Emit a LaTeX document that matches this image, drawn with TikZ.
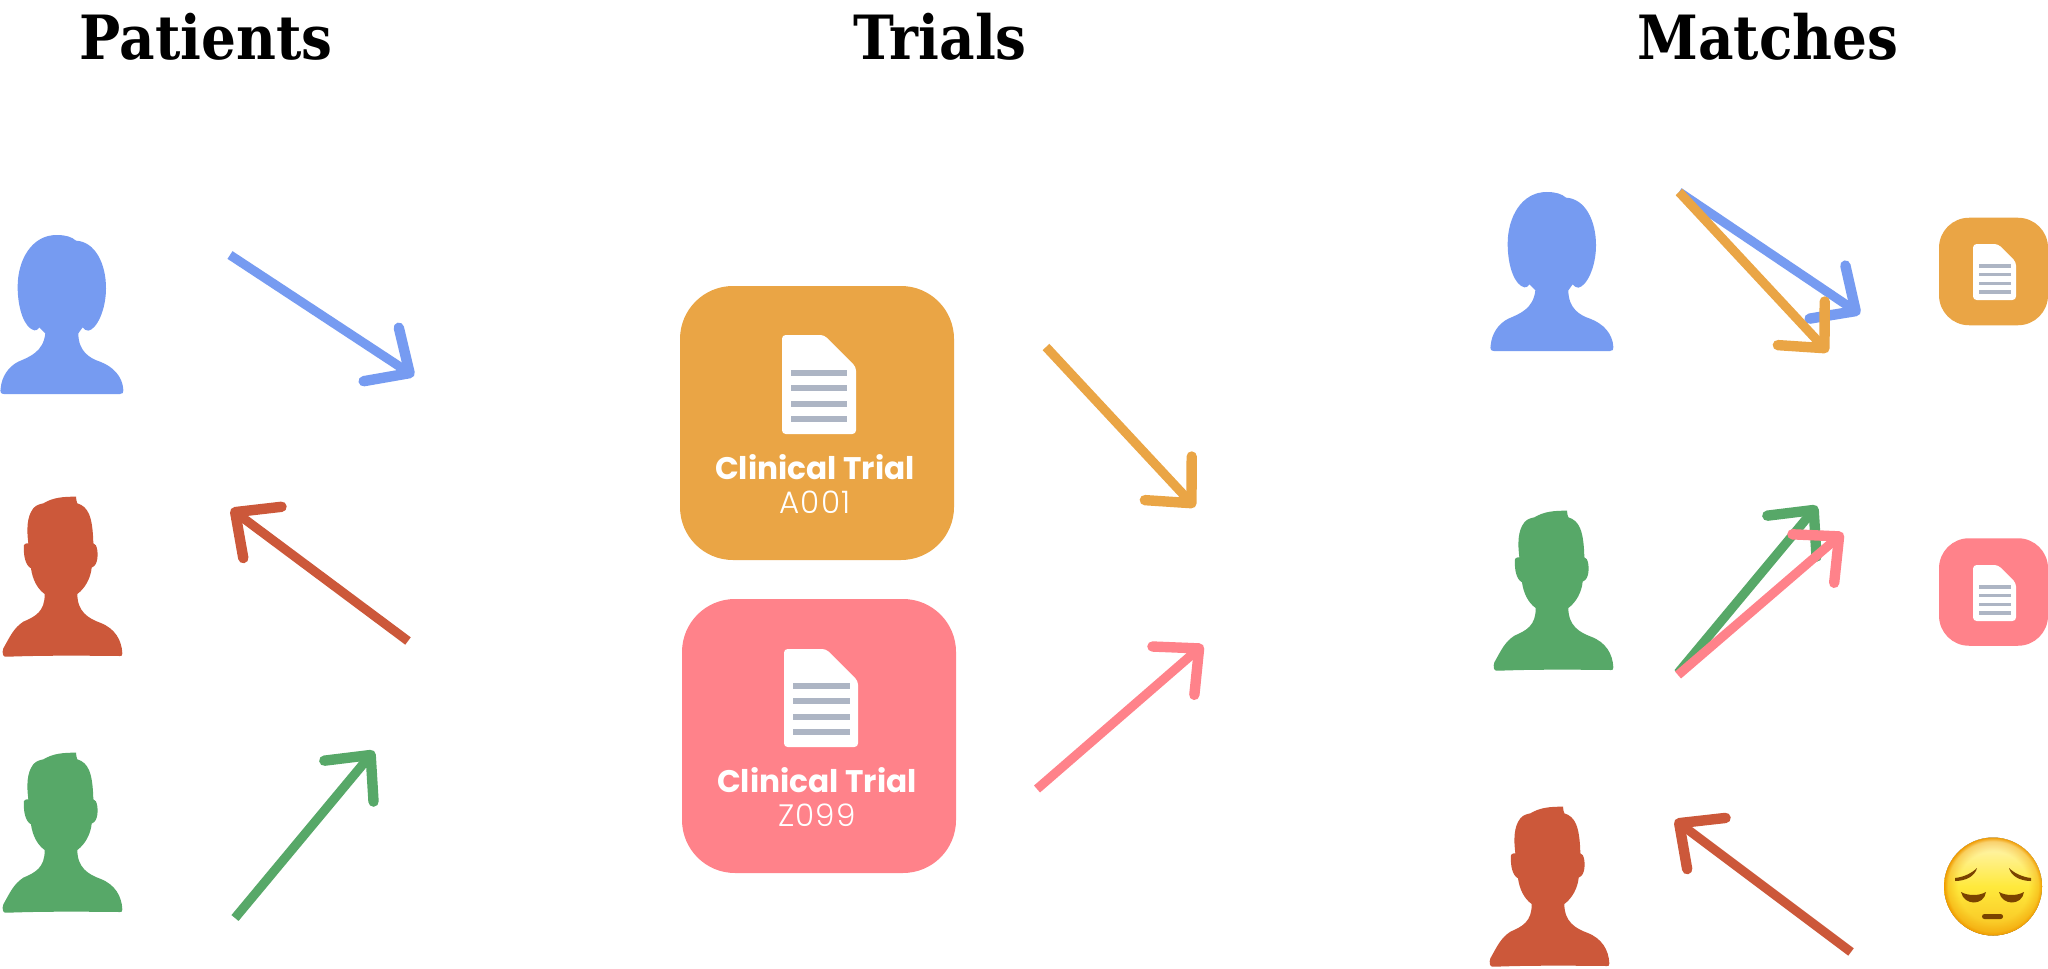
\documentclass[tikz,border=0pt]{standalone}
\usepackage{fontspec}
\usetikzlibrary{arrows.meta,fadings}
\newfontfamily\titlefont{DejaVu Serif Condensed}
\newfontfamily\cardfont{Poppins}
\newfontfamily\codefont{Poppins}[UprightFont=* Light,LetterSpace=4]
\definecolor{cblue}{HTML}{769BF1}
\definecolor{cred}{HTML}{CC583A}
\definecolor{cgreen}{HTML}{57A868}
\definecolor{corange}{HTML}{EAA545}
\definecolor{cpink}{HTML}{FF828A}
\definecolor{cline}{HTML}{ADB5C4}
\definecolor{emojitop}{HTML}{FFF6C0}
\definecolor{emojimid}{HTML}{FFE93C}
\definecolor{emojilow}{HTML}{F8C020}
\definecolor{emojirim}{HTML}{F09A00}
\definecolor{emojibrown}{HTML}{7A4300}
\pgfdeclareradialshading{rimshade}{\pgfpointorigin}{color(0bp)=(pgftransparent!100); color(18bp)=(pgftransparent!100); color(23bp)=(pgftransparent!60); color(25bp)=(pgftransparent!0); color(50bp)=(pgftransparent!0)}
\pgfdeclarefading{rimfade}{\pgfuseshading{rimshade}}
\tikzset{
  x=0.5pt,y=-0.5pt,
  title/.style={font=\titlefont\bfseries\fontsize{30.5}{31}\selectfont,anchor=base,inner sep=0pt,text=black},
  cardtitle/.style={font=\cardfont\bfseries\fontsize{15.6}{16}\selectfont,anchor=base,inner sep=0pt,text=white},
  cardcode/.style={font=\codefont\fontsize{15.5}{16}\selectfont,anchor=base,inner sep=0pt,text=white},
  bigcard/.style={minimum width=137pt,minimum height=137pt,inner sep=0pt,rounded corners=26.5pt},
  smallcard/.style={minimum width=54.5pt,minimum height=53.75pt,inner sep=0pt,rounded corners=15pt},
  conn/.style={line width=4.6pt,-{Straight Barb[length=17pt,width=32pt,line width=5.2pt,round]}},
}
% silhouettes, in coordinates of a 3x crop
\newcommand\womanat[3]{\begin{scope}[shift={(#1,#2)},x=0.16667pt,y=-0.16667pt]
\fill[#3] (12,522) .. controls (2,522) and (0,515) .. (2,505)
 .. controls (5,470) and (25,440) .. (55,425) .. controls (90,410) and (130,395) .. (136,340)
 -- (118,322) .. controls (112,330) and (108,332) .. (103,331)
 .. controls (75,325) and (53,270) .. (53,200) .. controls (53,120) and (95,45) .. (170,45)
 .. controls (195,45) and (215,50) .. (228,62) .. controls (285,65) and (318,130) .. (318,205)
 .. controls (318,270) and (290,328) .. (265,332) .. controls (258,332) and (253,328) .. (248,322)
 -- (235,340) .. controls (235,395) and (270,415) .. (300,425)
 .. controls (340,440) and (368,470) .. (370,510) .. controls (371,518) and (368,522) .. (360,522) -- cycle;
\end{scope}}
\newcommand\manat[3]{\begin{scope}[shift={(#1,#2)},x=0.16667pt,y=-0.16667pt]
\fill[#3] (15,530) .. controls (8,528) and (6,518) .. (10,505)
 .. controls (30,470) and (40,445) .. (70,425) .. controls (105,410) and (135,395) .. (134,342)
 .. controls (110,325) and (97,295) .. (93,265) .. controls (75,255) and (70,225) .. (72,195)
 .. controls (74,190) and (80,190) .. (85,190) .. controls (80,150) and (80,110) .. (100,85)
 .. controls (108,75) and (120,72) .. (130,70) .. controls (160,52) and (190,50) .. (228,50)
 .. controls (228,58) and (230,65) .. (232,70) .. controls (265,80) and (278,110) .. (280,190)
 .. controls (292,190) and (296,225) .. (290,245) .. controls (287,255) and (280,262) .. (275,263)
 .. controls (272,295) and (255,325) .. (232,342) .. controls (232,395) and (265,415) .. (300,428)
 .. controls (345,445) and (365,480) .. (367,520) .. controls (367,528) and (364,528) .. (360,528)
 .. controls (100,525) and (50,530) .. (15,530) -- cycle;
\end{scope}}
% document icon: #1,#2 = top left; #3=width #4=height #5=cut #6=line inset #7=first line offset #8=line step #9=line thickness
\newcommand\docicon[9]{\begin{scope}[shift={(#1,#2)}]
\fill[white,rounded corners=1.8pt] (0,0) -- ({#3-#5},0) -- (#3,#5) -- (#3,#4) -- (0,#4) -- cycle;
\foreach \k in {0,1,2,3}{\fill[cline] (#6,{#7+\k*#8}) rectangle ({#3-#6},{#7+\k*#8+#9});}
\end{scope}}
\newcommand\connector[4]{\coordinate (#1s) at (#3); \coordinate (#1t) at (#4);
\draw[conn,#2] (#1s) -- (#1t);}
\begin{document}
\begin{tikzpicture}
\useasboundingbox (0,0) rectangle (2048,968);
\fill[white] (0,0) rectangle (2048,968);
% titles
\node[title] (tpatients) at (206,60) {Patients};
\node[title] (ttrials) at (940,60) {Trials};
\node[title] (tmatches) at (1768,60) {Matches};
% patients
\womanat{0}{220}{cblue}
\manat{0}{480}{cred}
\manat{0}{736}{cgreen}
% cards
\node[bigcard,fill=corange] (carda) at (817,423) {};
\docicon{782}{335}{74}{99}{32}{9}{34.5}{15.6}{6}
\node[cardtitle] (carda1) at (815,479) {Clinical Trial};
\node[cardcode] (carda2) at (815,513) {A001};
\node[bigcard,fill=cpink] (cardz) at (819,736) {};
\docicon{784}{649}{74}{98}{32}{8.5}{34}{15.4}{6}
\node[cardtitle] (cardz1) at (817,792) {Clinical Trial};
\node[cardcode] (cardz2) at (817,826) {Z099};
% matches
\womanat{1490}{177}{cblue}
\manat{1491}{494}{cgreen}
\manat{1487}{790}{cred}
\node[smallcard,fill=corange] (smalla) at (1993.5,271.5) {};
\docicon{1973}{244}{43}{56}{18}{5.5}{20}{8.8}{3.5}
\node[smallcard,fill=cpink] (smallz) at (1993.5,592) {};
\docicon{1973}{565}{43}{56}{18}{5.5}{20}{8.8}{3.5}
% emoji
\fill[top color=emojitop,bottom color=emojilow,middle color=emojimid] (1993,886.5) circle [radius=49];
\fill[emojirim,path fading=rimfade] (1993,886.5) circle [radius=49];
\fill[emojibrown] (1955,881) .. controls (1966,881) and (1975,876) .. (1977,868) .. controls (1972,873) and (1964,877) .. (1955,878) -- cycle;
\fill[emojibrown] (2031,881) .. controls (2020,881) and (2011,876) .. (2009,868) .. controls (2014,873) and (2022,877) .. (2031,878) -- cycle;
\fill[emojibrown] (1961,892) .. controls (1968,896) and (1979,896) .. (1986,892) .. controls (1984,906) and (1964,906) .. (1961,892) -- cycle;
\fill[emojibrown] (1999,892) .. controls (2006,896) and (2017,896) .. (2024,892) .. controls (2022,906) and (2002,906) .. (1999,892) -- cycle;
\fill[emojibrown,rounded corners=1.2pt] (1982,914) rectangle (2003,919);
% connectors
\connector{a}{cblue}{230,255}{414,376}
\connector{b}{cred}{408,641}{231,509}
\connector{c}{cgreen}{235,918}{374,751}
\connector{d}{corange}{1046,347}{1195,507}
\connector{e}{cpink}{1037,789}{1203,645}
\connector{f}{cblue}{1679,192}{1860,314}
\connector{g}{corange}{1679,192}{1828,352}
\connector{h}{cgreen}{1678,673}{1817,506}
\connector{i}{cpink}{1678,675}{1843,533}
\connector{j}{cred}{1851,952}{1675,820}
\end{tikzpicture}
\end{document}
